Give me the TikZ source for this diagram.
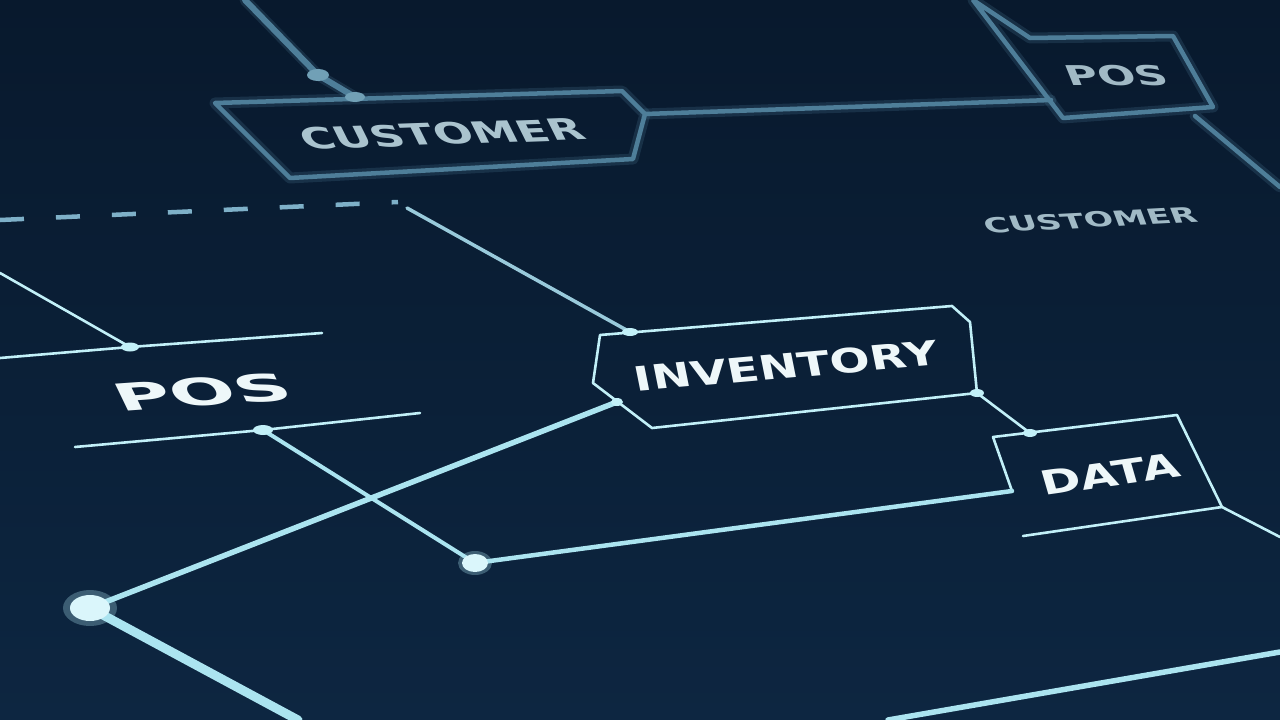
\documentclass[tikz,border=0pt]{standalone}
\usepackage{fontspec}
\setmainfont{DejaVu Sans}
\usetikzlibrary{calc}
\definecolor{bgtop}{HTML}{08192D}
\definecolor{bgbot}{HTML}{0D2641}
\definecolor{ln}{HTML}{C2F0F8}
\definecolor{lnb}{HTML}{ABE4F0}
\definecolor{dim}{HTML}{4E7E99}
\definecolor{mid}{HTML}{7EB0C8}
\definecolor{txt}{HTML}{EEF7F9}
\definecolor{ftxt}{HTML}{BCD6E0}
\tikzset{
  wire/.style={draw=ln, line width=2.6pt, line cap=round, line join=round},
  thick wire/.style={draw=lnb, line cap=round, line join=round},
  dimwire/.style={draw=dim, line width=4.5pt, line cap=round, line join=round},
  glow/.style={draw=dim, line width=11pt, opacity=0.22, line cap=round, line join=round},
  lbl/.style={text=txt, inner sep=0pt},
  flbl/.style={text=ftxt, inner sep=0pt},
  dotfill/.style={fill=ln},
}
\begin{document}
\begin{tikzpicture}[x=1pt,y=-1pt]
\useasboundingbox (0,0) rectangle (1280,720);
\shade[top color=bgtop,bottom color=bgbot] (0,0) rectangle (1280,720);
\clip (0,0) rectangle (1280,720);

% ---------- coordinates ----------
\coordinate (t0) at (245,0);
\coordinate (t1) at (318,75);
\coordinate (t2) at (355,97);
\coordinate (c1) at (215,103);
\coordinate (c2) at (622,91);
\coordinate (c3) at (645,114);
\coordinate (c4) at (633,159);
\coordinate (c5) at (290,178);
\coordinate (q0) at (973,0);
\coordinate (q1) at (1030,38);
\coordinate (q2) at (1173,36);
\coordinate (q3) at (1213,107);
\coordinate (q4) at (1063,118);
\coordinate (qin) at (1051,100);
\coordinate (qout) at (1195,116);
\coordinate (qend) at (1280,187);
\coordinate (d0) at (0,220);
\coordinate (d1) at (398,202);
\coordinate (d2) at (407,208);
\coordinate (n1) at (600,335);
\coordinate (n2) at (952,306);
\coordinate (n3) at (970,322);
\coordinate (n4) at (977,393);
\coordinate (n5) at (652,428);
\coordinate (n6) at (593,383);
\coordinate (i0) at (630,332);
\coordinate (j1) at (617,402);
\coordinate (a1) at (993,437);
\coordinate (a2) at (1177,415);
\coordinate (a3) at (1222,507);
\coordinate (a4) at (1012,491);
\coordinate (k0) at (1030,433);
\coordinate (b1) at (1023,536);
\coordinate (aend) at (1280,537);
\coordinate (u0) at (0,358);
\coordinate (u1) at (130,347);
\coordinate (u2) at (322,333);
\coordinate (u3) at (0,273);
\coordinate (l0) at (75,447);
\coordinate (l1) at (263,430);
\coordinate (l2) at (420,413);
\coordinate (m1) at (90,608);
\coordinate (m2) at (475,563);
\coordinate (m3) at (298,720);
\coordinate (r0) at (888,720);
\coordinate (r1) at (1280,652);

% ---------- far, blurred part ----------
\draw[glow] (t0) -- (t1) -- (t2);
\draw[dimwire, line width=6pt] (t0) -- (t1) -- (t2);
\draw[glow] (c1) -- (c2) -- (c3) -- (c4) -- (c5) -- cycle;
\draw[dimwire] (c1) -- (c2) -- (c3) -- (c4) -- (c5) -- cycle;
\draw[glow] (c3) -- (qin);
\draw[dimwire] (c3) -- (qin);
\fill[dim!70!ln] (t1) ellipse [x radius=11pt, y radius=6pt];
\fill[dim!70!ln] (t2) ellipse [x radius=10pt, y radius=5pt];

\draw[glow] (q0) -- (q1) -- (q2) -- (q3) -- (q4) -- cycle (qout) -- (qend);
\draw[dimwire] (q0) -- (q1) -- (q2) -- (q3) -- (q4) -- cycle;
\draw[dimwire] (qout) -- (qend);

\node[flbl, font={\fontsize{45}{45}\selectfont\bfseries}, rotate=2, yscale=0.66, xslant=-0.3, opacity=0.9] (ctop) at (442,134) {CUSTOMER};
\node[flbl, font={\fontsize{44}{44}\selectfont\bfseries}, yscale=0.62, xslant=-0.25, opacity=0.85] (ptop) at (1116,76) {POS};
\node[flbl, font={\fontsize{34}{34}\selectfont\bfseries}, rotate=3, yscale=0.62, xslant=-0.2, opacity=0.85] (cright) at (1090,220) {CUSTOMER};

% ---------- dashed line ----------
\draw[draw=mid, line width=4.5pt, dash pattern=on 24pt off 32pt] (d0) -- (d1);
\draw[draw=mid!60!ln, line width=3.5pt, line cap=round] (d2) -- (i0);

% ---------- INVENTORY ----------
\draw[wire] (n1) -- (n2) -- (n3) -- (n4) -- (n5) -- (n6) -- cycle;
\draw[wire] (n4) -- (k0);
\node[lbl, font={\fontsize{47}{47}\selectfont\bfseries}, rotate=5, yscale=0.72, xslant=-0.08] (inv) at (786,366) {INVENTORY};

% ---------- DATA ----------
\draw[wire] (a4) -- (a1) -- (a2) -- (a3) -- (aend);
\draw[wire] (b1) -- (a3);
\node[lbl, font={\fontsize{48}{48}\selectfont\bfseries}, rotate=8, yscale=0.7, xslant=-0.1] (data) at (1110,474) {DATA};

% ---------- POS (left) ----------
\draw[wire] (u0) -- (u1) -- (u2);
\draw[wire] (u3) -- (u1);
\draw[wire] (l0) -- (l1) -- (l2);
\node[lbl, font={\fontsize{76}{76}\selectfont\bfseries}, rotate=4, yscale=0.5, xslant=-0.2] (pos) at (202,392) {POS};

% ---------- lower network ----------
\draw[thick wire, line width=4pt] (l1) -- (m2);
\draw[thick wire, line width=4.5pt] (m2) -- (a4);
\draw[thick wire, line width=5.5pt] (m1) -- (j1);
\draw[thick wire, line width=9pt] (m1) -- (m3);
\draw[thick wire, line width=5.5pt] (r0) -- (r1);

% junction dots
\fill[lnb, opacity=0.3] (m1) ellipse [x radius=27pt, y radius=18pt];
\fill[ln!60!white] (m1) ellipse [x radius=20pt, y radius=13pt];
\fill[lnb, opacity=0.3] (m2) ellipse [x radius=17pt, y radius=12pt];
\fill[ln!60!white] (m2) ellipse [x radius=13pt, y radius=9pt];
\fill[dotfill] (u1) ellipse [x radius=9pt, y radius=4.5pt];
\fill[dotfill] (l1) ellipse [x radius=10pt, y radius=5pt];
\fill[dotfill] (j1) ellipse [x radius=6pt, y radius=4pt];
\fill[dotfill] (i0) ellipse [x radius=8pt, y radius=4pt];
\fill[dotfill] (n4) ellipse [x radius=7pt, y radius=4pt];
\fill[dotfill] (k0) ellipse [x radius=7pt, y radius=4pt];
\end{tikzpicture}
\end{document}
